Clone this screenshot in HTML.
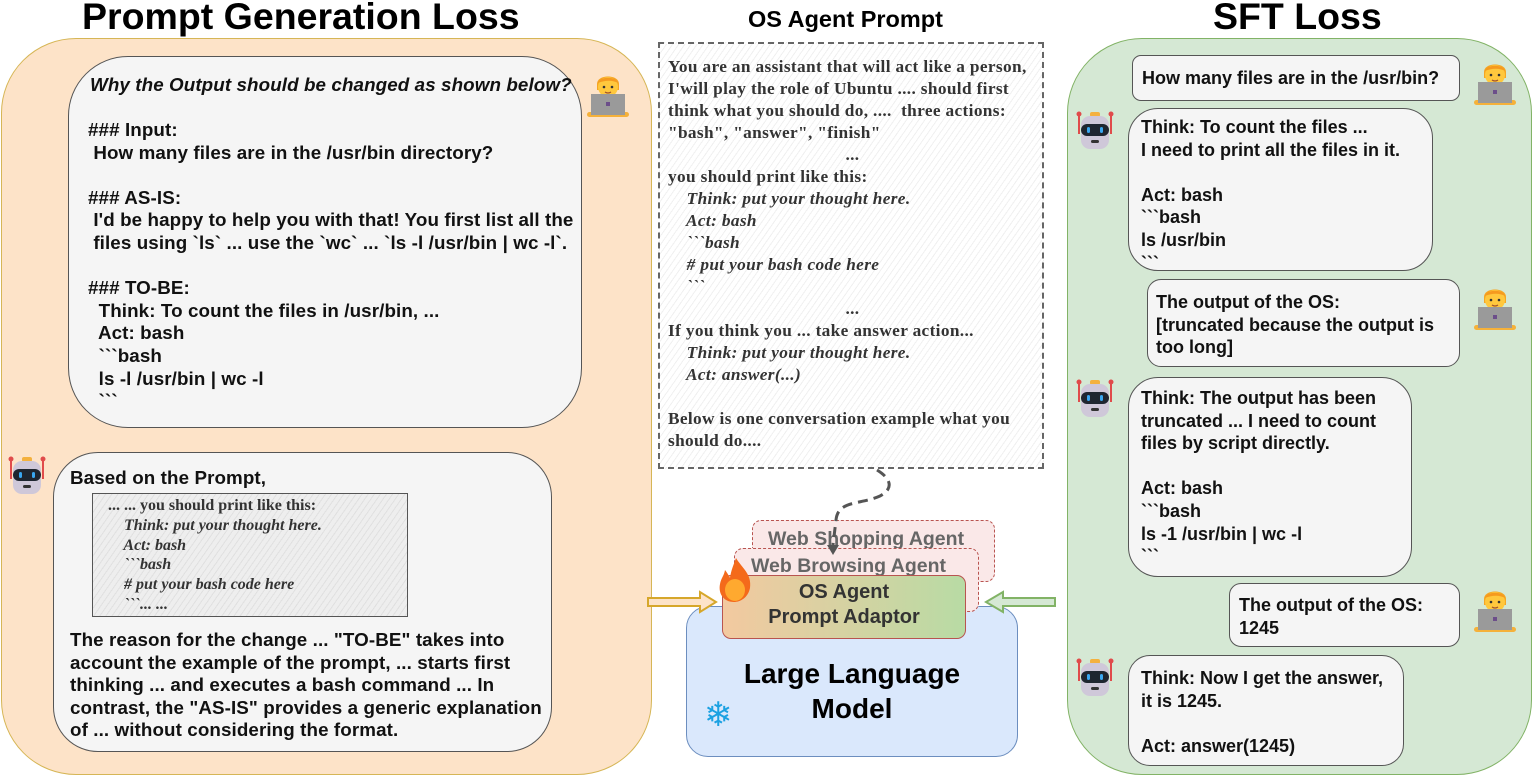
<!DOCTYPE html>
<html><head><meta charset="utf-8">
<style>
*{margin:0;padding:0;box-sizing:border-box}
body{width:1537px;height:777px;background:#fff;position:relative;overflow:hidden;font-family:"Liberation Sans",Arial,sans-serif;}
.abs{position:absolute}
.title{position:absolute;font-weight:bold;color:#000;white-space:nowrap}
.panel{position:absolute;border-radius:75px}
.bub{position:absolute;background:#f5f5f5;border:1.3px solid #555;border-radius:40px}
.t{position:absolute;white-space:pre;font-weight:bold;color:#111}
.lt{font-size:18.8px;line-height:22.6px;letter-spacing:0.1px}
.rt{font-size:18px;line-height:22.6px;letter-spacing:0px}
.serif{font-family:"Liberation Serif","Times New Roman",serif;font-weight:bold;color:#333}
.hatch{background-color:#fff;background-image:repeating-linear-gradient(125deg,rgba(0,0,0,0.06) 0 1px,transparent 1px 5px)}
.robot{position:absolute;width:38px;height:42px}
.person{position:absolute;width:46px;height:48px}
</style></head><body>

<div class="title" style="left:82px;top:-5px;font-size:37.5px;">Prompt Generation Loss</div>
<div class="title" style="left:748px;top:6px;font-size:23.5px;">OS Agent Prompt</div>
<div class="title" style="left:1213px;top:-5px;font-size:37.5px;">SFT Loss</div>

<div class="panel" style="left:1px;top:38px;width:651px;height:737px;background:#fde3c8;border:1.3px solid #d6b656;"></div>
<div class="bub" style="left:68px;top:56px;width:514px;height:372px;border-radius:60px;"></div>
<div class="t lt" style="left:90px;top:74px;font-style:italic;">Why the Output should be changed as shown below?</div>
<div class="t lt" style="left:88px;top:119px;">### Input:
 How many files are in the /usr/bin directory?

### AS-IS:
 I'd be happy to help you with that! You first list all the
 files using &#96;ls&#96; ... use the &#96;wc&#96; ... &#96;ls -l /usr/bin | wc -l&#96;.

### TO-BE:
  Think: To count the files in /usr/bin, ...
  Act: bash
  &#96;&#96;&#96;bash
  ls -l /usr/bin | wc -l
  &#96;&#96;&#96;</div>

<div class="bub" style="left:53px;top:452px;width:499px;height:300px;border-radius:45px;"></div>
<div class="t lt" style="left:70px;top:467px;">Based on the Prompt,</div>
<div class="abs hatch" style="left:92px;top:493px;width:316px;height:124px;border:1.5px solid #555;background-color:#eee;"></div>
<div class="t serif" style="left:108px;top:496px;font-size:16px;line-height:19.8px;">... ... you should print like this:
<i>    Think: put your thought here.
    Act: bash
    &#96;&#96;&#96;bash
    # put your bash code here
    &#96;&#96;&#96;... ...</i></div>
<div class="t lt" style="left:70px;top:629px;">The reason for the change ... "TO-BE" takes into
account the example of the prompt, ... starts first
thinking ... and executes a bash command ... In
contrast, the "AS-IS" provides a generic explanation
of ... without considering the format.</div>

<div class="abs hatch" style="left:658px;top:42px;width:386px;height:427px;border:2px dashed #666;"></div>
<div class="t serif" style="left:668px;top:56px;font-size:17.3px;line-height:22px;letter-spacing:0.35px;">You are an assistant that will act like a person,
I'will play the role of Ubuntu .... should first
think what you should do, ....  three actions:
"bash", "answer", "finish"
                                      ...
you should print like this:
<i>    Think: put your thought here.
    Act: bash
    &#96;&#96;&#96;bash
    # put your bash code here
    &#96;&#96;&#96;</i>
                                      ...
If you think you ... take answer action...
<i>    Think: put your thought here.
    Act: answer(...)</i>

Below is one conversation example what you
should do....</div>

<div class="abs" style="left:686px;top:606px;width:332px;height:151px;background:#dae8fc;border:1.3px solid #6c8ebf;border-radius:22px;"></div>
<div class="t" style="left:686px;top:656px;width:332px;text-align:center;font-size:28px;line-height:35px;color:#000;">Large Language
Model</div>
<div class="abs" style="left:704px;top:698px;font-size:34px;color:#1ba1e2;line-height:34px;">❄</div>

<div class="abs" style="left:752px;top:520px;width:243px;height:62px;background:#fae8e8;border:1.3px dashed #b85450;border-radius:9px;"></div>
<div class="t" style="left:768px;top:528px;font-size:19.5px;color:#666;">Web Shopping Agent</div>
<div class="abs" style="left:734px;top:548px;width:245px;height:64px;background:#fae8e8;border:1.3px dashed #b85450;border-radius:9px;"></div>
<div class="t" style="left:751px;top:555px;font-size:19.5px;color:#666;">Web Browsing Agent</div>
<div class="abs" style="left:722px;top:575px;width:244px;height:64px;background:linear-gradient(90deg,#f3c9a0,#b8dba4);border:1.3px solid #b85450;border-radius:9px;"></div>
<div class="t" style="left:722px;top:580px;width:244px;text-align:center;font-size:20px;line-height:25px;color:#333;">OS Agent
Prompt Adaptor</div>
<svg class="abs" style="left:716px;top:556px" width="40" height="48" viewBox="0 0 40 48">
<path d="M20 2 C26 12 36 18 34 32 C32 42 24 46 18 46 C8 46 2 38 4 28 C5 22 8 20 9 14 C12 18 13 20 14 22 C15 14 18 8 20 2Z" fill="#f46a1b"/>
<ellipse cx="19" cy="34" rx="10" ry="11" fill="#ffa92f"/>
</svg>

<svg class="abs" style="left:0;top:0" width="1537" height="777">
<path d="M877 470 C 890 478, 895 488, 880 496 C 860 505, 838 500, 836 520 L 833 545" fill="none" stroke="#555" stroke-width="3" stroke-dasharray="10,6"/>
<path d="M827 545 L 833 555 L 839 545 Z" fill="#555"/>
<path d="M648 598 L 700 598 L 700 592 L 716 602 L 700 612 L 700 606 L 648 606 Z" fill="#fde3c8" stroke="#d6a72b" stroke-width="2"/>
<path d="M1055 598 L 1003 598 L 1003 592 L 986 602 L 1003 612 L 1003 606 L 1055 606 Z" fill="#d5e8d4" stroke="#82b366" stroke-width="2"/>
</svg>

<div class="panel" style="left:1067px;top:38px;width:465px;height:737px;background:#d5e8d4;border:1.3px solid #82b366;"></div>
<div class="bub" style="left:1132px;top:55px;width:328px;height:46px;border-radius:9px;"></div>
<div class="t rt" style="left:1142px;top:67px;">How many files are in the /usr/bin?</div>
<div class="bub" style="left:1128px;top:108px;width:305px;height:163px;border-radius:30px;"></div>
<div class="t rt" style="left:1141px;top:116px;">Think: To count the files ...
I need to print all the files in it.

Act: bash
&#96;&#96;&#96;bash
ls /usr/bin
&#96;&#96;&#96;</div>
<div class="bub" style="left:1147px;top:279px;width:313px;height:88px;border-radius:14px;"></div>
<div class="t rt" style="left:1156px;top:291px;">The output of the OS:
[truncated because the output is
too long]</div>
<div class="bub" style="left:1128px;top:377px;width:284px;height:200px;border-radius:30px;"></div>
<div class="t rt" style="left:1141px;top:387px;">Think: The output has been
truncated ... I need to count
files by script directly.

Act: bash
&#96;&#96;&#96;bash
ls -1 /usr/bin | wc -l
&#96;&#96;&#96;</div>
<div class="bub" style="left:1229px;top:583px;width:231px;height:64px;border-radius:12px;"></div>
<div class="t rt" style="left:1239px;top:594px;">The output of the OS:
1245</div>
<div class="bub" style="left:1128px;top:655px;width:276px;height:111px;border-radius:22px;"></div>
<div class="t rt" style="left:1141px;top:667px;">Think: Now I get the answer,
it is 1245.

Act: answer(1245)</div>

<svg width="0" height="0" style="position:absolute">
<defs>
<g id="rb">
<line x1="3" y1="4" x2="3" y2="24" stroke="#e04b4b" stroke-width="2"/>
<line x1="35" y1="4" x2="35" y2="24" stroke="#e04b4b" stroke-width="2"/>
<circle cx="3" cy="4" r="2.5" fill="#e04b4b"/><circle cx="35" cy="4" r="2.5" fill="#e04b4b"/>
<rect x="14" y="2" width="10" height="5" rx="2" fill="#f4b13e"/>
<rect x="5" y="6" width="28" height="33" rx="9" fill="#cfc8d9"/>
<rect x="5" y="14" width="28" height="12" rx="6" fill="#1f2630"/>
<rect x="11" y="17" width="3" height="6" rx="1.5" fill="#3aa7f0"/>
<rect x="24" y="17" width="3" height="6" rx="1.5" fill="#3aa7f0"/>
<rect x="15" y="30" width="8" height="3" rx="1.5" fill="#333"/>
</g>
<g id="ps">
<path d="M12 14 C12 4 34 4 34 14 L34 20 L12 20Z" fill="#f5a623"/>
<circle cx="23" cy="17" r="10" fill="#ffc83d"/>
<path d="M13 13 C14 6 32 6 33 13 C28 10 20 10 13 13Z" fill="#f59a1f"/>
<circle cx="19" cy="17" r="1.3" fill="#333"/><circle cx="27" cy="17" r="1.3" fill="#333"/>
<path d="M20 22 Q23 24 26 22" stroke="#a0522d" stroke-width="1.2" fill="none"/>
<rect x="2" y="42" width="42" height="5" rx="2.5" fill="#f5b13a"/>
<rect x="6" y="24" width="34" height="21" fill="#9a9a9a"/>
<rect x="21" y="32" width="4" height="4" fill="#6c4e8a"/>
</g>
</defs></svg>
<svg class="robot" style="left:8px;top:455px" viewBox="0 0 38 42"><use href="#rb"/></svg>
<svg class="robot" style="left:1076px;top:110px" viewBox="0 0 38 42"><use href="#rb"/></svg>
<svg class="robot" style="left:1076px;top:378px" viewBox="0 0 38 42"><use href="#rb"/></svg>
<svg class="robot" style="left:1076px;top:657px" viewBox="0 0 38 42"><use href="#rb"/></svg>
<svg class="person" style="left:585px;top:70px" viewBox="0 0 46 48"><use href="#ps"/></svg>
<svg class="person" style="left:1472px;top:58px" viewBox="0 0 46 48"><use href="#ps"/></svg>
<svg class="person" style="left:1472px;top:283px" viewBox="0 0 46 48"><use href="#ps"/></svg>
<svg class="person" style="left:1472px;top:585px" viewBox="0 0 46 48"><use href="#ps"/></svg>

</body></html>
